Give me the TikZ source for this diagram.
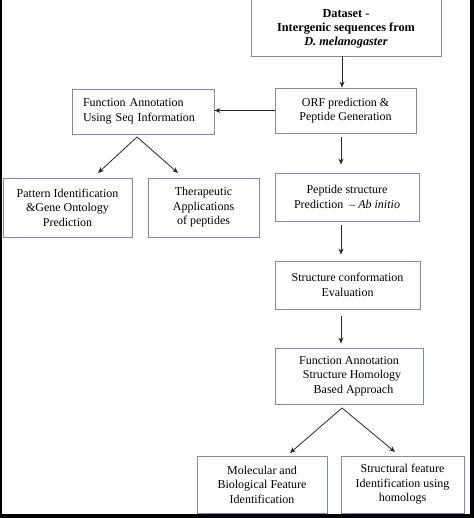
\documentclass[tikz,border=0pt]{standalone}
\usepackage{fontspec}
\setmainfont{Liberation Serif}
\usetikzlibrary{arrows.meta}
\definecolor{boxline}{RGB}{125,140,180}
\definecolor{arrline}{RGB}{40,40,40}
\tikzset{
  box/.style={draw=boxline, line width=0.9pt, fill=white, inner sep=0pt,
    minimum width=#1, align=center, font=\fontsize{12}{14.5}\selectfont},
  arr/.style={draw=arrline, line width=0.8pt, -{Stealth[length=6pt,width=5pt]}}
}
\begin{document}
\begin{tikzpicture}[x=1pt,y=-1pt]
\useasboundingbox (0,0) rectangle (474,518);
\fill[white] (0,0) rectangle (474,518);
% black frame strips
\fill[black] (0,0) rectangle (2.2,518);
\fill[black] (470,0) rectangle (474,518);
\fill[black] (0,514) rectangle (474,518);

\node[box=190pt, minimum height=58pt] (data) at (346,27) {};
\node[font=\fontsize{12.3}{14.2}\selectfont\bfseries, align=center] at (346,29)
  {Dataset -\\Intergenic sequences from\\\textit{D. melanogaster}};

\node[box=141pt, minimum height=45pt] (orf) at (345.5,110.5)
  {ORF prediction \&\\Peptide Generation};
\node[box=144pt, minimum height=48pt] (pep) at (347,197)
  {Peptide structure\\Prediction\ \ -- \textit{Ab initio}};
\node[box=145pt, minimum height=48pt] (conf) at (347.5,285)
  {Structure conformation\\Evaluation};
\node[box=148pt, minimum height=56pt] (fahom) at (349,376)
  {Function Annotation\\\ \ Structure Homology\\\ \ \ Based Approach};
\node[box=142pt, minimum height=45pt, align=left, text width=120pt] (faseq) at (143,111.5)
  {Function Annotation\\Using Seq Information};
\node[box=129pt, minimum height=59pt] (pat) at (67.5,207.5)
  {Pattern Identification\\\&Gene Ontology\\Prediction};
\node[box=111pt, minimum height=59pt] (ther) at (203.5,207.5)
  {Therapeutic\\Applications\\of peptides};
\node[box=130pt, minimum height=57pt] (mol) at (262,484.5)
  {Molecular and\\Biological Feature\\Identification};
\node[box=123pt, minimum height=57pt] (str) at (402.5,484.5)
  {Structural feature\\Identification using\\homologs};

% vertical chain
\draw[arr] (data.south -| 342,0) -- (orf.north -| 342,0);
\draw[arr, shorten <=4pt, shorten >=8pt] (orf.south -| 341,0) -- (pep.north -| 341,0);
\draw[arr, shorten <=4pt, shorten >=6pt] (pep.south -| 341,0) -- (conf.north -| 341,0);
\draw[arr, shorten <=7pt, shorten >=4pt] (conf.south -| 341,0) -- (fahom.north -| 341,0);
% horizontal
\draw[arr] (orf.west) -- (orf.west -| faseq.east);

% branches from faseq
\coordinate (s1) at (137,137);
\coordinate (p1) at (98,173);
\coordinate (t1) at (178,173);
\draw[arr] (s1) -- (p1);
\draw[arr] (s1) -- (t1);

% branches from fahom
\coordinate (s2) at (342,408);
\coordinate (m2) at (290,453);
\coordinate (r2) at (395,452);
\draw[arr] (s2) -- (m2);
\draw[arr] (s2) -- (r2);
\end{tikzpicture}
\end{document}
